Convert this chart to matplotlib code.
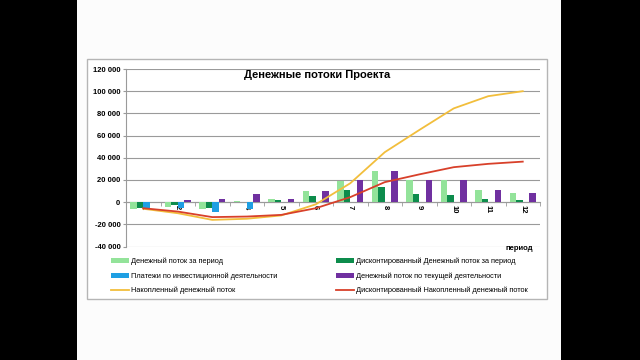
import matplotlib
matplotlib.use("Agg")
import matplotlib.pyplot as plt
from matplotlib.patches import Rectangle
from matplotlib.ticker import FuncFormatter, MultipleLocator
import numpy as np

plt.rcParams['font.family'] = ['Liberation Sans', 'DejaVu Sans']

# Data
periods = list(range(1, 13))
cf_period = [-6000, -4000, -6000, 1000, 3000, 10000, 19000, 28000, 20000, 19500, 11000, 8500]
cf_discounted = [-5500, -3000, -5000, 500, 1500, 5500, 10500, 13500, 7000, 6500, 3000, 2000]
invest_payments = [-6000, -5500, -9000, -6500, 0, 0, 0, 0, 0, 0, 0, 0]
operating_cf = [0, 1500, 3000, 7500, 3000, 10000, 20000, 28000, 20000, 19500, 11000, 8000]
cumulative_cf = [-6000, -10000, -16000, -15000, -12000, -2000, 17000, 45000, 65000, 84500, 95500, 100000]
cumulative_disc = [-5500, -8500, -13500, -13000, -11500, -5500, 4500, 18000, 25000, 31500, 34500, 36500]

bar_series = [
    ('Денежный поток за период', cf_period, '#93e39a'),
    ('Дисконтированный Денежный поток за период', cf_discounted, '#0d8c4c'),
    ('Платежи по инвестиционной деятельности', invest_payments, '#1f9fe3'),
    ('Денежный поток по текущей деятельности', operating_cf, '#7030a0'),
]

fig = plt.figure(figsize=(6.4, 3.6), dpi=100)
fig.patch.set_facecolor('black')

# slide and chart frame
fig.patches.append(Rectangle((77 / 640, 0), 484 / 640, 1, transform=fig.transFigure,
                             facecolor='#fcfcfc', edgecolor='none', zorder=-10))
fig.patches.append(Rectangle((87 / 640, 1 - 299 / 360), 460 / 640, 240 / 360,
                             transform=fig.transFigure, facecolor='white',
                             edgecolor='#b5b5b5', linewidth=1.0, zorder=-9))

ax = fig.add_axes([126 / 640, 1 - 246.5 / 360, 414 / 640, 177.5 / 360])
ax.set_facecolor('none')

x = np.array(periods)
w = 0.19
offsets = [-1.5, -0.5, 0.5, 1.5]
handles = []
for (label, vals, color), off in zip(bar_series, offsets):
    h = ax.bar(x + off * w, vals, width=w, color=color, label=label, zorder=3)
    handles.append(h)

l1, = ax.plot(x, cumulative_cf, color='#f2be3c', linewidth=1.3, zorder=4,
              label='Накопленный денежный поток')
l2, = ax.plot(x, cumulative_disc, color='#d8402a', linewidth=1.3, zorder=4,
              label='Дисконтированный Накопленный денежный поток')

ax.set_xlim(0.5, 12.5)
ax.set_ylim(-40000, 120000)
ax.yaxis.set_major_locator(MultipleLocator(20000))
ax.yaxis.set_major_formatter(FuncFormatter(lambda v, p: f"{int(v):,}".replace(",", " ")))
ax.grid(axis='y', color='#9a9a9a', linewidth=0.8, zorder=0)

for s in ['top', 'right']:
    ax.spines[s].set_visible(False)
ax.spines['left'].set_color('#9a9a9a')
ax.spines['bottom'].set_position(('data', 0))
ax.spines['bottom'].set_color('#9a9a9a')

ax.set_xticks(periods)
ax.set_xticklabels([str(p) for p in periods], rotation=270, fontsize=5.5, fontweight='bold')
ax.set_xticks(np.arange(0.5, 13, 1), minor=True)
ax.tick_params(axis='x', which='major', length=0, pad=2)
ax.tick_params(axis='x', which='minor', length=3, color='#9a9a9a')
ax.tick_params(axis='y', length=2, color='#9a9a9a', labelsize=5.5, pad=2)
for t in ax.get_yticklabels():
    t.set_fontweight('bold')

fig.text(317 / 640, 1 - 75 / 360, 'Денежные потоки Проекта', ha='center', va='center',
         fontsize=8, fontweight='bold')
fig.text(533 / 640, 1 - 249 / 360, 'период', ha='right', va='center',
         fontsize=5.5, fontweight='bold')

order = [handles[0], handles[2], l1, handles[1], handles[3], l2]
fig.legend(handles=order, labels=[h.get_label() for h in order], ncol=2,
           loc='upper left', bbox_to_anchor=(111 / 640, 1 - 258 / 360),
           frameon=False, fontsize=5.3, handlelength=2.4, handleheight=0.7,
           handletextpad=0.3, labelspacing=0.95, columnspacing=8.0, borderpad=0,
           borderaxespad=0)

fig.savefig('out.png', dpi=100, facecolor=fig.get_facecolor())
